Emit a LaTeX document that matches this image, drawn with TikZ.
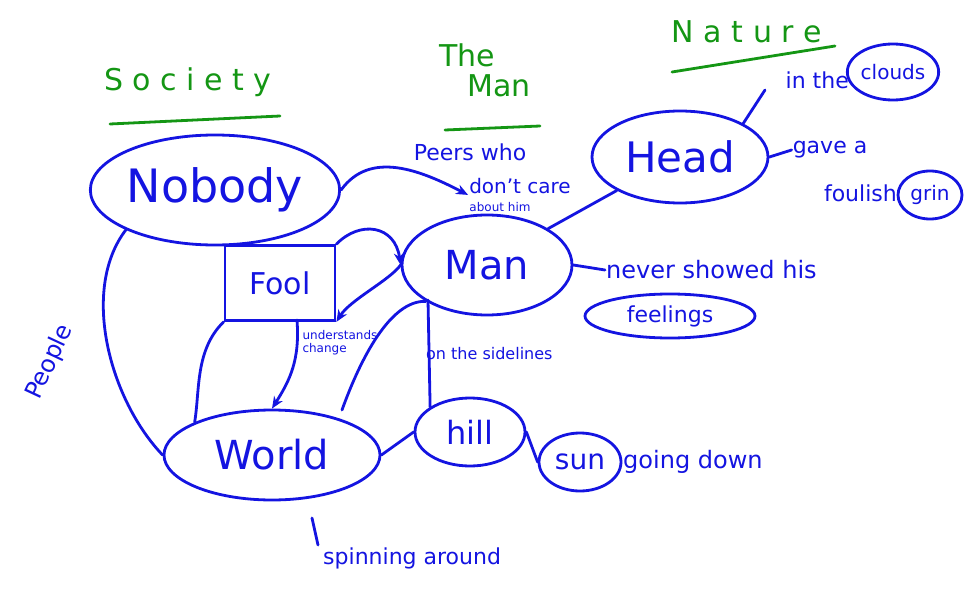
\documentclass[tikz,border=0pt]{standalone}
\usepackage{fontspec}
\setmainfont{DejaVu Sans}
\usetikzlibrary{arrows.meta,shapes.geometric}
\definecolor{pen}{RGB}{20,20,225}
\definecolor{gpen}{RGB}{20,150,20}
\tikzset{
  ink/.style={draw=pen,line width=2.8pt,line cap=round},
  bub/.style={ellipse,draw=pen,line width=2.8pt,text=pen,inner sep=0pt},
  word/.style={text=pen,inner sep=1pt},
  gword/.style={text=gpen,inner sep=1pt,font=\fontsize{30}{34}\selectfont},
  gline/.style={draw=gpen,line width=2.8pt,line cap=round},
  arr/.style={ink,-{Stealth[length=12pt,width=10pt]}}
}
\begin{document}
\begin{tikzpicture}[x=1pt,y=-1pt]
\useasboundingbox[fill=white] (0,0) rectangle (975,602);
% headings
\node[gword] (soc) at (188,82) {S o c i e t y};
\coordinate (sa) at (110,124); \coordinate (sb) at (280,116);
\draw[gline] (sa) -- (sb);
\node[gword,align=left] (theman) at (485,70) {The\\[-4pt]\hspace{28pt}Man};
\coordinate (ta) at (445,130); \coordinate (tb) at (540,126);
\draw[gline] (ta) -- (tb);
\node[gword] (nat) at (747,32) {N a t u r e};
\coordinate (na) at (672,72); \coordinate (nb) at (835,46);
\draw[gline] (na) -- (nb);
% main nodes
\node[bub,minimum width=200pt,minimum height=110pt,font=\fontsize{46}{48}\selectfont] (nobody) at (215,190) {Nobody};
\node[draw=pen,line width=2.8pt,text=pen,minimum width=110pt,minimum height=75pt,font=\fontsize{30}{32}\selectfont] (fool) at (280,283) {Fool};
\node[bub,minimum width=170pt,minimum height=100pt,font=\fontsize{40}{42}\selectfont] (man) at (487,265) {Man};
\node[bub,minimum width=216pt,minimum height=90pt,font=\fontsize{40}{42}\selectfont] (world) at (272,455) {World};
\node[bub,minimum width=110pt,minimum height=68pt,font=\fontsize{32}{34}\selectfont] (hill) at (470,432) {hill};
\node[bub,minimum width=82pt,minimum height=58pt,font=\fontsize{28}{30}\selectfont] (sun) at (580,462) {sun};
\node[word,font=\fontsize{24}{26}\selectfont,anchor=west] (going) at (622,462) {going down};
\node[bub,minimum width=176pt,minimum height=92pt,font=\fontsize{42}{44}\selectfont] (head) at (680,157) {Head};
\node[bub,minimum width=88pt,minimum height=56pt,font=\fontsize{20}{22}\selectfont] (clouds) at (893,72) {clouds};
\node[word,font=\fontsize{22}{24}\selectfont,anchor=east] (inthe) at (850,80) {in the};
\node[word,font=\fontsize{22}{24}\selectfont] (gavea) at (830,150) {gave a};
\node[word,font=\fontsize{22}{24}\selectfont,anchor=east] (foul) at (898,193) {foulish};
\node[bub,minimum width=64pt,minimum height=48pt,font=\fontsize{20}{22}\selectfont] (grin) at (930,195) {grin};
\node[word,font=\fontsize{24}{26}\selectfont,anchor=west] (never) at (605,270) {never showed his};
\node[bub,minimum width=170pt,minimum height=44pt,font=\fontsize{22}{24}\selectfont] (feel) at (670,316) {feelings};
\node[word,font=\fontsize{22}{24}\selectfont] (peers) at (470,152) {Peers who};
\node[word,font=\fontsize{20}{22}\selectfont] (dont) at (520,186) {don't care};
\node[word,font=\fontsize{12}{14}\selectfont] (about) at (500,207) {about him};
\node[word,font=\fontsize{12}{13}\selectfont,align=left] (under) at (340,343) {understands\\change};
\node[word,font=\fontsize{16}{18}\selectfont,anchor=west] (side) at (425,354) {on the sidelines};
\node[word,font=\fontsize{24}{26}\selectfont,rotate=65] (people) at (50,362) {People};
\node[word,font=\fontsize{22}{24}\selectfont,anchor=west] (spin) at (322,558) {spinning around};
% connectors
\coordinate (ha) at (765,90);
\coordinate (sp) at (318,545);
\coordinate (ws) at (312,518);
\coordinate (fb) at (297,320);
\coordinate (wn) at (342,410);
\coordinate (ms) at (428,300);
\draw[arr] (nobody.east) .. controls (370,150) and (420,170) .. (dont.south west);
\draw[arr] (fool.north east) .. controls (360,220) and (395,225) .. (man.west);
\draw[arr] (man.west) .. controls (390,280) and (350,300) .. (fool.south east);
\draw[arr] (fb) .. controls (300,360) and (290,380) .. (world.north);
\draw[ink] (fool.south west) .. controls (195,350) and (200,390) .. (world.north west);
\draw[ink] (wn) .. controls (360,360) and (390,300) .. (man.south west);
\draw[ink] (nobody.south west) .. controls (80,290) and (110,400) .. (world.west);
\draw[ink] (ms) -- (hill.north west);
\draw[ink] (world.east) -- (hill.west);
\draw[ink] (hill.east) -- (sun.west);
\draw[ink] (man.north east) -- (head.south west);
\draw[ink] (head.north east) -- (ha);
\draw[ink] (head.east) -- (gavea.west);
\draw[ink] (man.east) -- (never.west);
\draw[ink] (ws) -- (sp);
\end{tikzpicture}
\end{document}
